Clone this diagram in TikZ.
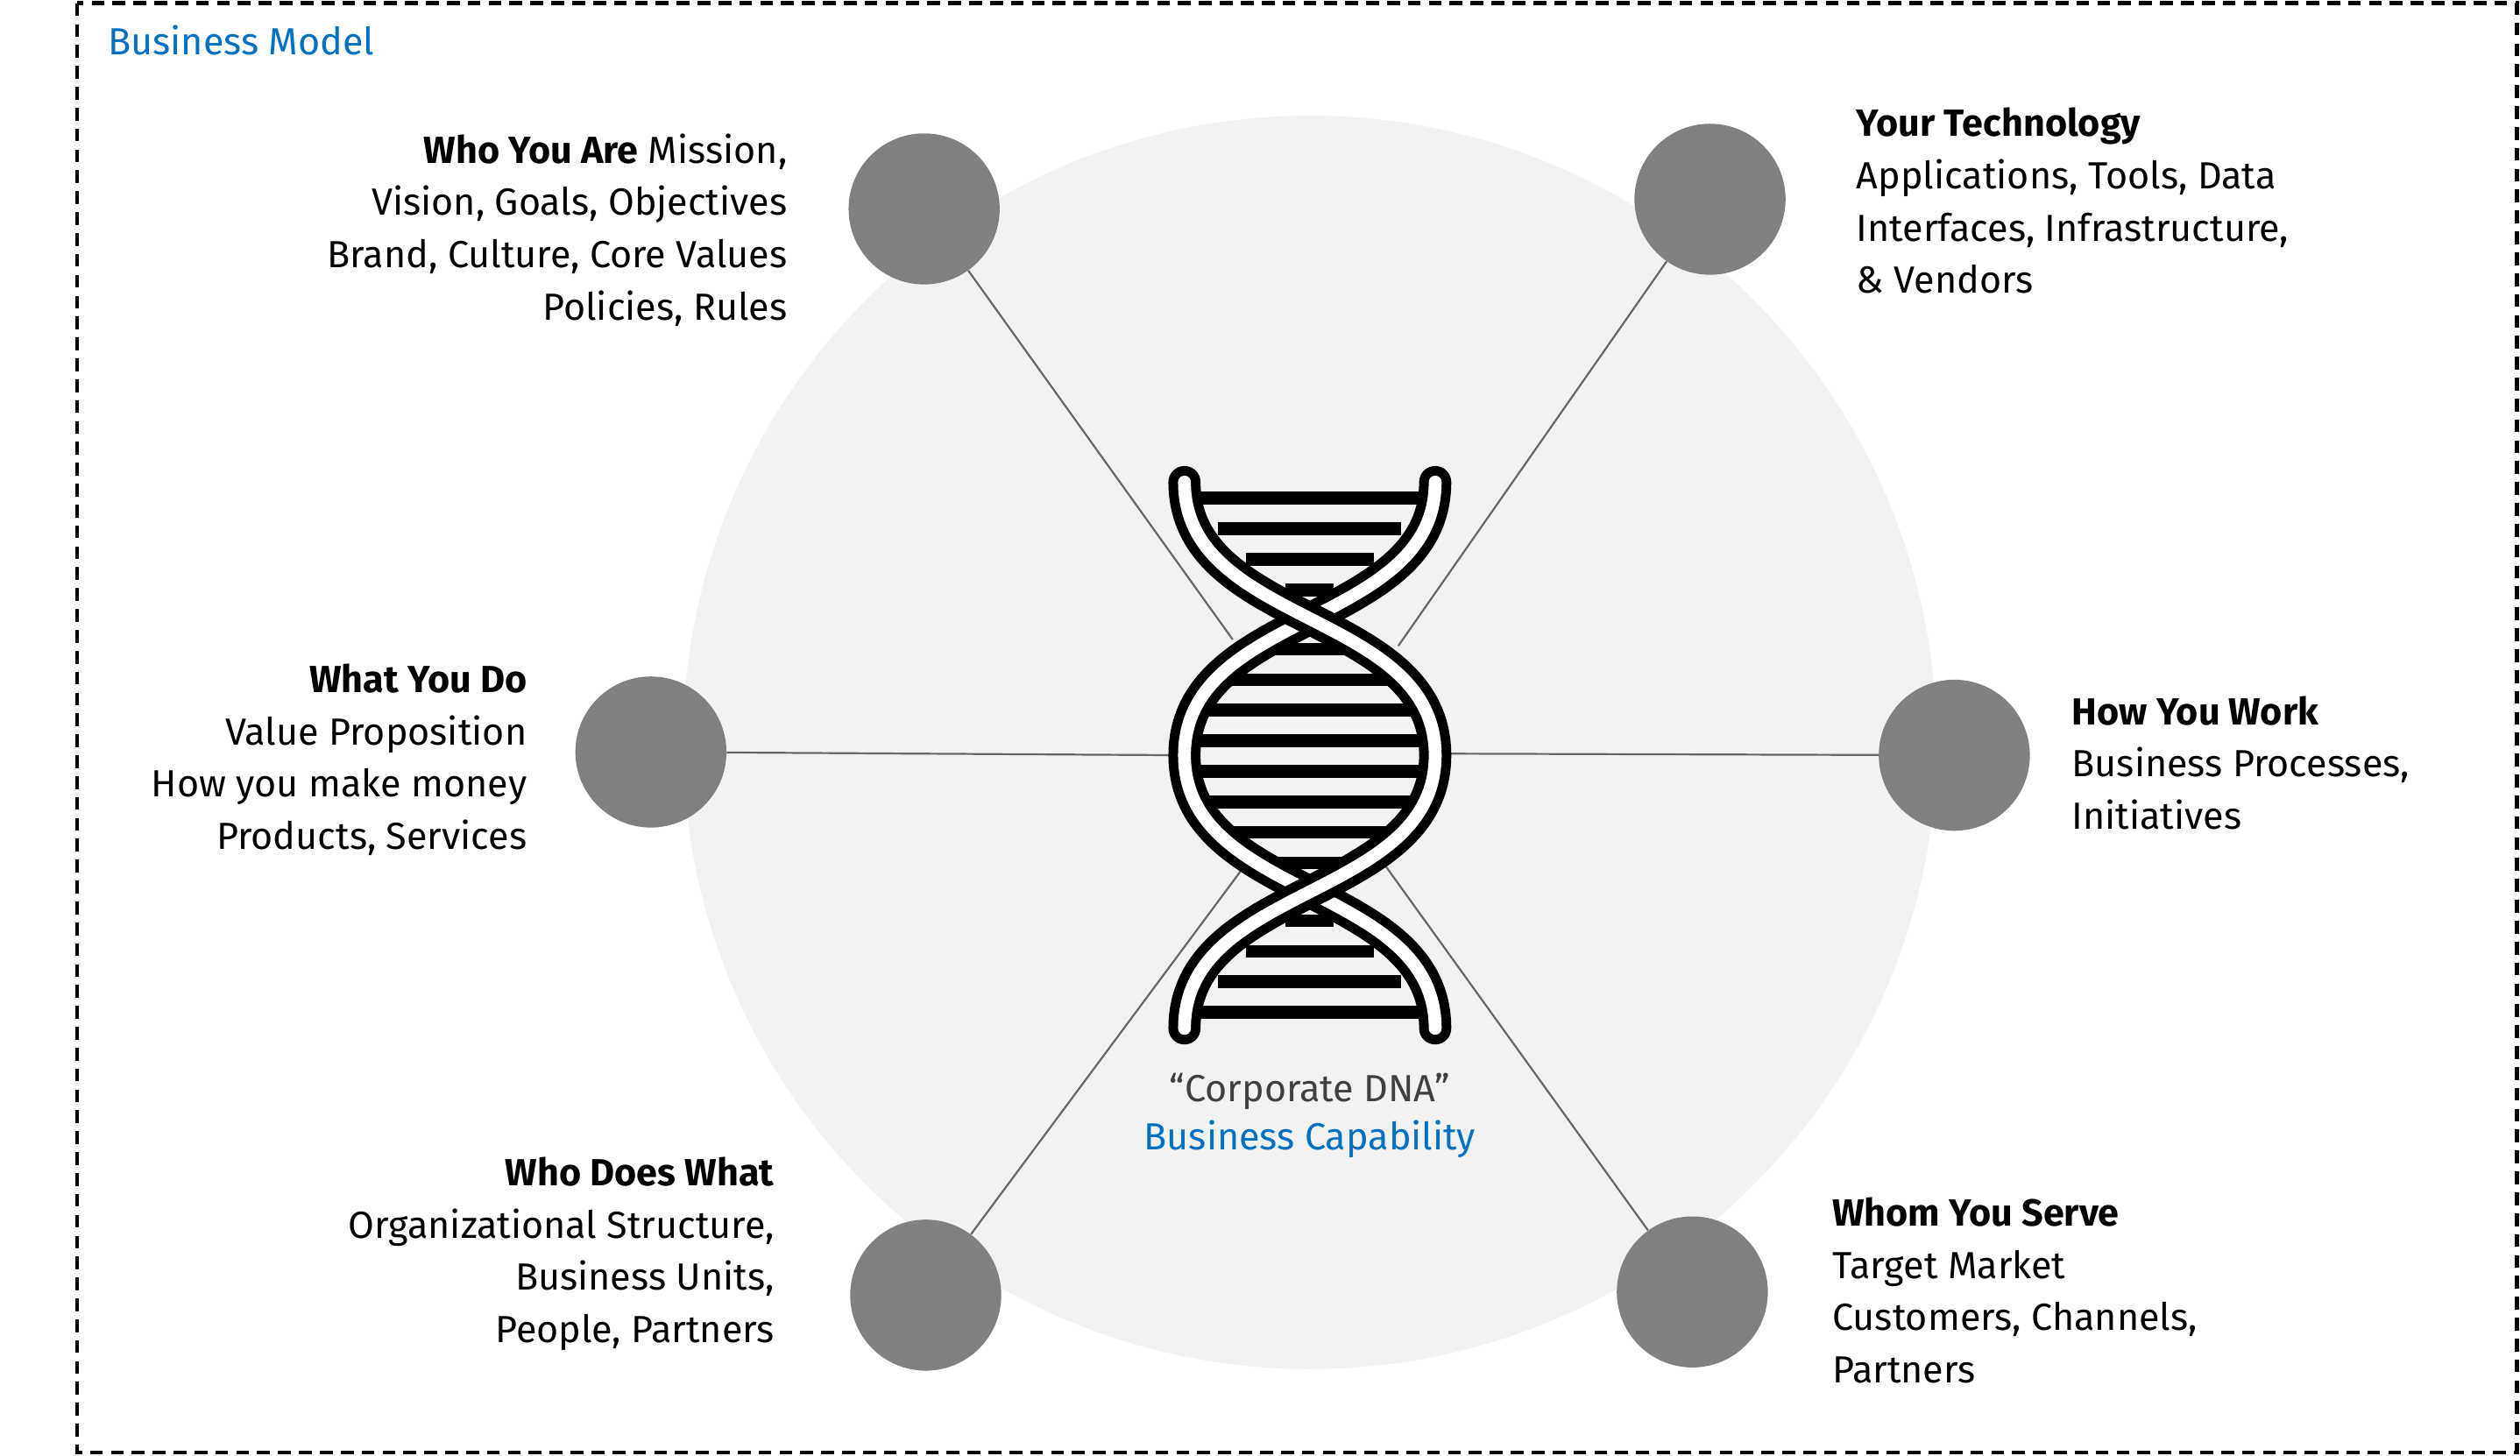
\documentclass[tikz,border=0pt]{standalone}
\usepackage{fontspec}
\setmainfont{Fira Sans}
\definecolor{bmblue}{RGB}{0,112,192}
\definecolor{bg}{RGB}{242,242,242}
\definecolor{dot}{RGB}{128,128,128}
\begin{document}
\begin{tikzpicture}[x=1pt,y=-1pt,
  dotc/.style={circle,fill=dot,minimum size=94pt,inner sep=0pt},
  link/.style={draw=dot!80!black,line width=1.2pt},
  txt/.style={font=\fontsize{23.5}{32.5}\selectfont,inner sep=0pt},
  ltxt/.style={txt,align=right,anchor=north east},
  rtxt/.style={txt,align=left,anchor=north west}]
\useasboundingbox (0,0) rectangle (1568,906);
\draw[dashed,line width=2.5pt,dash pattern=on 8pt off 5pt] (48,2) rectangle (1566,904);
\node[anchor=west,text=bmblue,font=\fontsize{23.5}{28}\selectfont,inner sep=0pt] (title) at (67,25) {Business Model};
\node[circle,fill=bg,minimum size=780pt,inner sep=0pt] (big) at (815,462) {};
\node[dotc] (a) at (575,130) {};
\node[dotc] (b) at (1064,124) {};
\node[dotc] (d) at (405,468) {};
\node[dotc] (e) at (1216,470) {};
\node[dotc] (f) at (576,806) {};
\node[dotc] (g) at (1053,804) {};
\coordinate (ea) at (767,398); \coordinate (eb) at (870,402);
\coordinate (ed) at (735,470); \coordinate (ee) at (895,469);
\coordinate (ef) at (775,538); \coordinate (eg) at (860,536);
\foreach \n in {a,b,d,e,f,g} \draw[link] (\n) -- (e\n);
% DNA rungs
\foreach \yy/\w in {310/68,329/57,348/40,367/15,404/32,423/52,442/66,461/73,480/73,499/66,518/52,537/32,573/15,592/40,611/57,630/68}{
  \fill[black] (815-\w,\yy-4) rectangle (815+\w,\yy+4);
}
\coordinate (p1) at (893,300); \coordinate (p2) at (737,470); \coordinate (p3) at (893,640);
\coordinate (q1) at (737,300); \coordinate (q2) at (893,470); \coordinate (q3) at (737,640);
\foreach \u/\v/\w in {p1/p2/p3,q1/q2/q3}{
 \draw[black,line width=20pt,line cap=round] (\u) to[out=-90,in=90] (\v) to[out=-90,in=90] (\w);
 \draw[white,line width=8pt,line cap=round] (\u) to[out=-90,in=90] (\v) to[out=-90,in=90] (\w);
}
\node[ltxt] (ta) at (490,83) {\textbf{Who You Are} Mission,\\Vision, Goals, Objectives\\Brand, Culture, Core Values\\Policies, Rules};
\node[rtxt] (tb) at (1155,67) {\textbf{Your Technology}\\Applications, Tools, Data\\Interfaces, Infrastructure,\\\& Vendors};
\node[ltxt] (td) at (328,413) {\textbf{What You Do}\\Value Proposition\\How you make money\\Products, Services};
\node[rtxt] (te) at (1289,433) {\textbf{How You Work}\\Business Processes,\\Initiatives};
\node[ltxt] (tf) at (482,720) {\textbf{Who Does What}\\Organizational Structure,\\Business Units,\\People, Partners};
\node[rtxt] (tg) at (1140,745) {\textbf{Whom You Serve}\\Target Market\\Customers, Channels,\\Partners};
\node[txt,text={rgb,255:red,64;green,64;blue,64}] (dna) at (815,679) {“Corporate DNA”};
\node[txt,text=bmblue] (cap) at (815,709) {Business Capability};
\end{tikzpicture}
\end{document}
